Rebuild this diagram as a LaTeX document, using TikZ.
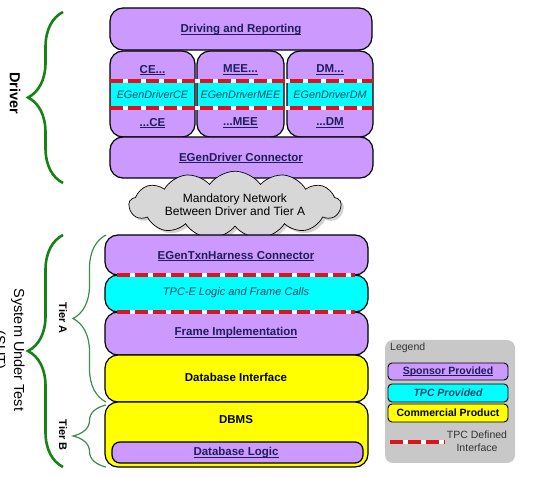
\documentclass[tikz,border=0pt]{standalone}
\usepackage{fontspec}
\setmainfont{Liberation Sans}
\usetikzlibrary{shapes.symbols,shadows,decorations.pathreplacing}

\definecolor{sponsor}{RGB}{204,153,255}
\definecolor{tpccyan}{RGB}{0,255,255}
\definecolor{commercial}{RGB}{255,255,0}
\definecolor{navytext}{RGB}{30,30,90}
\definecolor{tealtext}{RGB}{20,70,100}
\definecolor{ifcred}{RGB}{220,20,30}
\definecolor{bracegreen}{RGB}{20,130,20}
\definecolor{tiergreen}{RGB}{60,140,80}
\definecolor{legendgray}{RGB}{200,200,200}
\definecolor{cloudgray}{RGB}{215,215,215}

\newcommand{\undl}[1]{\underline{\smash{#1}}\vphantom{#1}}

\begin{document}
\begin{tikzpicture}[x=1pt,y=-1pt]

% ----------------------------
% Styles
% ----------------------------
\tikzset{
	box/.style={draw=black,line width=1.2pt,rounded corners=13pt},
	sponsorbox/.style={box,fill=sponsor},
	tpcbox/.style={box,fill=tpccyan},
	commbox/.style={box,fill=commercial},
	legbox/.style={draw=black,line width=0.9pt,rounded corners=4pt},
	ptext/.style={font=\fontsize{11.5}{13}\selectfont\bfseries,text=navytext,inner sep=0pt},
	ctext/.style={font=\fontsize{11.5}{13}\selectfont\bfseries,text=black,inner sep=0pt},
	ttext/.style={font=\fontsize{10.8}{13}\selectfont\itshape,text=tealtext,inner sep=0pt},
	ifc/.style={draw=ifcred,line width=3.8pt,dash pattern=on 13pt off 5pt,
		preaction={draw=white,line width=3.8pt,solid}},
	drvbrace/.style={decorate,decoration={brace,amplitude=35pt},draw=bracegreen,line width=2.6pt},
	tierbrace/.style={decorate,decoration={brace,amplitude=33pt},draw=tiergreen,line width=1.2pt},
	sidelabel/.style={font=\fontsize{14.5}{19}\selectfont,text=black,rotate=-90,inner sep=0pt},
	tierlabel/.style={font=\fontsize{11}{13}\selectfont\bfseries,text=black,rotate=-90,inner sep=0pt},
	netcloud/.style={cloud,cloud puffs=13,cloud puff arc=110,aspect=4.5,draw=black,line width=0.7pt,
		fill=cloudgray,minimum width=212pt,minimum height=48pt,inner sep=0pt,align=center,
		font=\fontsize{12}{13}\selectfont,drop shadow={opacity=.35}},
	legtext/.style={font=\fontsize{10.5}{13}\selectfont,inner sep=0pt}
}

\useasboundingbox (0,0) rectangle (536,478);

% ============================================================
% DRIVER
% ============================================================
\draw[sponsorbox] (110,8) rectangle (372,50);
\node[ptext] (drvrep) at (241,30) {\undl{Driving and Reporting}};

% the three driver parts with the TPC band
\foreach \nm/\xa/\xb in {CE/110/195, MEE/197/284, DM/287/373}{
	\draw[sponsorbox] (\xa,51) rectangle (\xb,137);
	\fill[tpccyan] (\xa+0.6,81) rectangle (\xb-0.6,108);
	\node[ptext] (top\nm) at ({(\xa+\xb)/2},70) {\undl{\nm...}};
	\node[ttext] (egen\nm) at ({(\xa+\xb)/2},95) {EGenDriver\nm};
	\node[ptext] (bot\nm) at ({(\xa+\xb)/2},123) {\undl{...\nm}};
}
\draw[ifc] (110,81) -- (373,81);
\draw[ifc] (110,108) -- (373,108);

\draw[sponsorbox] (110,137) rectangle (373,178);
\node[ptext] (drvconn) at (241,158) {\undl{EGenDriver Connector}};

% network
\node[netcloud] (net) at (235,205) {Mandatory Network\\Between Driver and Tier A};

% ============================================================
% SUT: Tier A and Tier B
% ============================================================
\draw[sponsorbox] (105,235) rectangle (368,275);
\node[ptext] (harness) at (236,256) {\undl{EGenTxnHarness Connector}};
\draw[tpcbox] (105,275) rectangle (368,312);
\node[ttext,font=\fontsize{11}{13}\selectfont\itshape] (logic) at (236,293) {TPC-E Logic and Frame Calls};
\draw[sponsorbox] (105,312) rectangle (368,355);
\node[ptext] (frame) at (236,333) {\undl{Frame Implementation}};
\draw[commbox] (105,355) rectangle (368,402);
\node[ctext] (dbif) at (236,377) {Database Interface};
\draw[commbox] (105,402) rectangle (368,467);
\node[ctext] (dbms) at (236,420) {DBMS};
\draw[sponsorbox,rounded corners=8pt] (112,442) rectangle (363,463);
\node[ptext] (dblogic) at (236,453) {\undl{Database Logic}};

\draw[ifc] (117,275) -- (355,275);
\draw[ifc] (117,312) -- (355,312);

% ============================================================
% Braces and side labels
% ============================================================
\draw[drvbrace] (63,183) -- (63,12);
\node[sidelabel,font=\fontsize{14.5}{19}\selectfont\bfseries] (drvlbl) at (15,93) {Driver};

\draw[drvbrace] (63,467) -- (63,235);
\node[sidelabel,align=center] (sutlbl) at (8.5,350) {System Under Test\\(SUT)};

\draw[tierbrace] (106,402) -- (106,235);
\node[tierlabel] (tieralbl) at (63,318) {Tier A};
\draw[tierbrace] (106,467) -- (106,405);
\node[tierlabel] (tierblbl) at (63,435) {Tier B};

% ============================================================
% Legend
% ============================================================
\fill[legendgray,rounded corners=8pt] (385,340) rectangle (515,463);
\node[legtext,anchor=west,text=black!80] (leg) at (390,348) {Legend};
\draw[legbox,fill=sponsor] (388,363) rectangle (508,380);
\node[ptext,font=\fontsize{10.5}{13}\selectfont\bfseries] (legspon) at (448,371.5) {\undl{Sponsor Provided}};
\draw[legbox,fill=tpccyan] (388,384) rectangle (508,402);
\node[ttext,font=\fontsize{10.5}{13}\selectfont\bfseries\itshape] (legtpc) at (448,393) {TPC Provided};
\draw[legbox,fill=commercial] (388,404) rectangle (508,422);
\node[ctext,font=\fontsize{10.5}{13}\selectfont\bfseries] (legcomm) at (448,413) {Commercial Product};
\draw[ifc,line width=3.2pt,preaction={draw=white,line width=3.2pt,solid}] (390,442) -- (445,442);
\node[legtext,align=center,text=black!80] (legifc) at (477,441.5) {TPC Defined\\Interface};

\end{tikzpicture}
\end{document}
